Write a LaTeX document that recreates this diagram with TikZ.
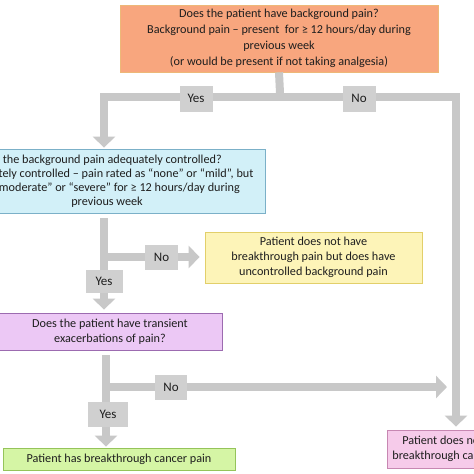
\documentclass[tikz,border=0pt]{standalone}
\usepackage{fontspec}
\setmainfont{Carlito}
\usetikzlibrary{arrows.meta,calc}
\definecolor{orF}{HTML}{F8A67E}\definecolor{orD}{HTML}{EDB878}
\definecolor{blF}{HTML}{D2F0F8}\definecolor{blD}{HTML}{7BB0C8}
\definecolor{yeF}{HTML}{FDF4B8}\definecolor{yeD}{HTML}{E2CF6A}
\definecolor{puF}{HTML}{ECC8F5}\definecolor{puD}{HTML}{9C6BB0}
\definecolor{grF}{HTML}{D5F5A5}\definecolor{grD}{HTML}{95C45A}
\definecolor{piF}{HTML}{F6CBEA}\definecolor{piD}{HTML}{C787B2}
\definecolor{barC}{HTML}{C8C8C8}\definecolor{labC}{HTML}{D0D0D0}
\definecolor{txt}{HTML}{1E1E1E}
\tikzset{
  box/.style={draw, line width=0.8pt, align=center, inner sep=0pt, text=txt,
    font=\fontsize{12.2}{15}\selectfont},
  conn/.style={draw=barC, line width=8pt, line join=miter},
  arr/.style={conn, -{Triangle[width=22pt,length=11pt]}},
  lab/.style={fill=labC, inner sep=0pt, minimum width=33pt, minimum height=26pt,
    text=txt, font=\fontsize{13}{15}\selectfont},
}
\begin{document}
\begin{tikzpicture}[x=1pt,y=-1pt]
\useasboundingbox (0,0) rectangle (474,474);
\clip (0,0) rectangle (474,474);
\fill[white] (0,0) rectangle (474,474);
% boxes
\node[box, fill=orF, draw=orD, minimum width=318pt, minimum height=67pt,
  font=\fontsize{12.2}{16}\selectfont] (q1) at (279,38.5)
  {Does the patient have background pain?\\Background pain -- present\ \ for ≥ 12 hours/day during\\previous week\\(or would be present if not taking analgesia)};
\node[box, fill=blF, draw=blD, minimum width=316pt, minimum height=64pt,
  font=\fontsize{12.2}{14}\selectfont] (q2) at (107,181)
  {Is the background pain adequately controlled?\\Adequately controlled -- pain rated as “none” or “mild”, but\\not “moderate” or “severe” for ≥ 12 hours/day during\\previous week};
\node[box, fill=yeF, draw=yeD, minimum width=217pt, minimum height=51pt] (r1) at (313.5,257.5)
  {Patient does not have\\breakthrough pain but does have\\uncontrolled background pain};
\node[box, fill=puF, draw=puD, minimum width=224pt, minimum height=37pt] (q3) at (110,331.5)
  {Does the patient have transient\\exacerbations of pain?};
\node[box, fill=grF, draw=grD, minimum width=232pt, minimum height=22pt] (r2) at (119,459)
  {Patient has breakthrough cancer pain};
\node[box, fill=piF, draw=piD, minimum width=138pt, minimum height=38pt] (r3) at (456,449)
  {Patient does not have\\breakthrough cancer pain};
% junction coordinates
\coordinate (j1) at (280,97);
\coordinate (jL) at (104,97);
\coordinate (jR) at (456,97);
\coordinate (s2) at (104,218);
\coordinate (b2) at (104,257);
\coordinate (s3) at (106,355);
\coordinate (b3) at (106,387);
% connectors
\draw[conn] (q1.south) -- ([yshift=4pt]j1);
\draw[arr] (j1) -| ($(jL |- q2.north)+(0,-1)$);
\draw[arr] (j1) -| ($(jR |- r3.north)+(0,-3)$);
\draw[arr] (s2) -- ($(s2 |- q3.north)+(0,-3)$);
\draw[arr] ([xshift=-4pt]b2) -- ($(b2 -| r1.west)+(-5,0)$);
\draw[arr] (s3) -- ($(s3 |- r2.north)+(0,-1)$);
\draw[arr] ([xshift=-4pt]b3) -- ($(b3 -| r3.center)+(-9,0)$);
% labels
\node[lab] (y1) at (196,98.5) {Yes};
\node[lab] (n1) at (359,98.5) {No};
\node[lab, minimum height=25pt] (n2) at (161.5,257.5) {No};
\node[lab, minimum width=37pt, minimum height=23pt] (y2) at (104,281) {Yes};
\node[lab, minimum width=32pt, minimum height=25pt] (n3) at (171,387.5) {No};
\node[lab, minimum width=40pt, minimum height=25pt] (y3) at (108,414.5) {Yes};
\end{tikzpicture}
\end{document}
